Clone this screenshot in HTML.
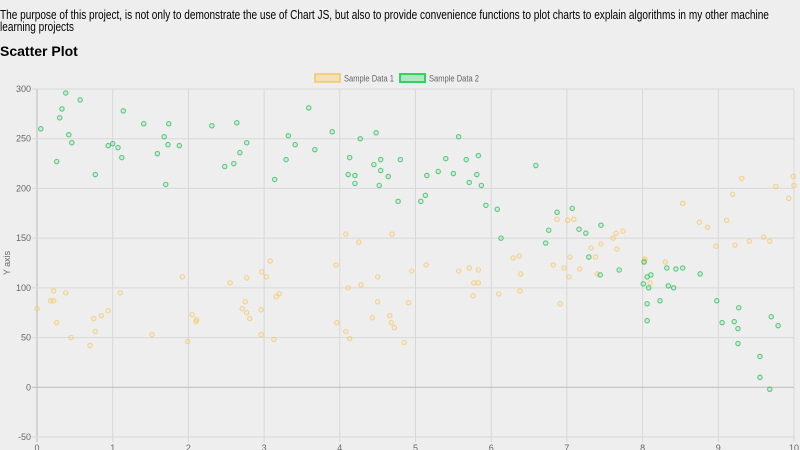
<!DOCTYPE html>
<html><head><meta charset="utf-8"><style>
html,body{margin:0;padding:0;background:#eeeeee;width:800px;height:450px;overflow:hidden;font-family:"Liberation Sans",sans-serif;}
p{margin:0;position:absolute;left:0;top:9px;font-size:13px;line-height:12px;color:#000;width:1000px;transform:scaleX(0.775);transform-origin:0 0;}
h3{margin:0;position:absolute;left:0;top:43px;font-size:14px;font-weight:bold;}
svg{position:absolute;left:0;top:0;}
</style></head><body>
<p>The purpose of this project, is not only to demonstrate the use of Chart JS, but also to provide convenience functions to plot charts to explain algorithms in my other machine learning projects</p>
<h3>Scatter Plot</h3>
<svg id="chart" width="800" height="450"></svg>
<script>
const xTicks=[0,1,2,3,4,5,6,7,8,9,10];
const yTicks=[-50,0,50,100,150,200,250,300];
const series1X=[0,.22,.18,.22,.38,.26,.45,.70,.75,.85,.94,.77,1.10,1.52,1.92,1.99,2.05,2.10,2.11,2.55,2.77,3.08,2.97,3.03,2.75,2.71,2.77,2.81,2.96,2.96,3.13,3.16,3.20,4.08,4.69,4.25,3.95,5.14,4.95,5.57,5.71,5.83,4.50,4.28,4.11,5.77,5.83,5.76,6.10,6.38,4.50,4.91,3.96,4.43,4.66,4.68,4.72,4.08,4.13,4.85,6.29,6.37,6.39,6.82,6.87,7.01,7.09,6.96,7.03,7.04,7.17,7.32,7.38,7.45,7.61,7.65,7.74,7.66,7.40,6.91,8.03,8.02,8.30,8.10,8.53,8.75,8.86,8.97,9.11,9.19,9.31,9.22,9.41,9.60,9.68,9.76,9.93,9.99,10.0];
const series1Y=[79,97,87,87,95,65,50,42,69,72,77,56,95,53,111,46,73,66,68,105,110,127,116,111,86,79,75,69,78,53,48,91,94,154,154,146,123,123,117,117,120,118,111,103,100,105,105,92,94,97,86,85,65,70,72,65,60,56,49,45,130,132,114,123,169,168,169,120,111,131,119,140,131,144,150,155,157,139,114,84,129,127,126,105,185,166,161,142,168,194,210,143,147,151,147,202,190,212,203];
const series2X=[.05,.38,.57,.33,.30,.42,.46,.26,.77,.94,1.00,1.07,1.12,1.14,1.41,1.74,1.68,1.59,1.73,1.88,1.70,2.31,2.64,2.77,2.68,2.48,2.60,3.14,3.32,3.41,3.29,3.59,3.67,3.90,4.27,4.48,4.13,4.54,4.80,4.45,4.54,4.11,4.20,4.64,4.20,4.52,4.77,5.57,5.40,5.67,5.83,5.30,5.15,5.50,5.81,5.71,5.87,5.13,5.07,5.93,6.08,6.13,6.59,6.87,7.07,6.76,6.72,7.16,7.25,7.45,7.29,7.44,7.69,8.02,8.06,8.11,8.01,8.08,8.32,8.44,8.53,8.34,8.41,8.76,8.23,8.06,8.06,8.98,9.27,9.05,9.21,9.26,9.26,9.70,9.79,9.55,9.55,9.68];
const series2Y=[260,296,289,280,271,254,246,227,214,243,245,241,231,278,265,265,252,235,244,243,204,263,266,246,236,222,225,209,253,244,229,281,239,257,250,256,231,229,229,224,218,214,213,212,205,203,187,252,230,229,233,217,213,215,214,206,203,193,187,183,179,150,223,176,180,158,145,159,155,163,131,113,118,126,111,113,104,100,120,119,120,102,100,114,87,84,67,87,80,65,66,59,44,71,62,31,10,-2];
const NS='http://www.w3.org/2000/svg';
const svg=document.getElementById('chart');
const L=37,R=794,T=89,B=437;
const xs=v=>L+(v-0)/(10-0)*(R-L);
const ys=v=>B-(v+50)/350*(B-T);
function mk(tag,attrs,parent){const e=document.createElementNS(NS,tag);for(const k in attrs)e.setAttribute(k,attrs[k]);(parent||svg).appendChild(e);return e;}
const grid=mk('g',{});


xTicks.forEach(t=>{
 const l=mk('line',{x1:xs(t),x2:xs(t),y1:T,y2:B+5,stroke:t===0?'#bbb':'#d8d8d8','stroke-width':1},grid);
 
 
 const tx=mk('text',{x:xs(t),y:451,'font-size':9,fill:'#666','text-anchor':'middle'});
 tx.textContent=t;
 
 
});
yTicks.forEach(t=>{
 const l=mk('line',{x1:L-5,x2:R,y1:ys(t),y2:ys(t),stroke:t===0?'#bbb':'#d8d8d8','stroke-width':1},grid);
 
 
 const tx=mk('text',{x:31,y:ys(t)+3,'font-size':9,fill:'#666','text-anchor':'end'});
 tx.textContent=t;
 
 
});
const yt=mk('text',{x:10,y:263,'font-size':9,fill:'#666','text-anchor':'middle',transform:'rotate(-90 10 263)'});
yt.textContent='Y axis';


function drawSeries(X,Y,stroke,fill,name){
 const g=mk('g',{});
 
 
 X.forEach((x,i)=>{
  const c=mk('circle',{cx:xs(x),cy:ys(Y[i]),r:2.2,fill:fill,stroke:stroke,'stroke-width':1.1},g);
  
  
 });
}
drawSeries(series1X,series1Y,'rgba(245,190,70,0.55)','rgba(255,220,150,0.2)','series-sample-data-1');
drawSeries(series2X,series2Y,'rgba(40,190,90,0.75)','rgba(120,220,150,0.2)','series-sample-data-2');
const lg=mk('g',{});


const items=[['Sample Data 1',315,'rgba(245,190,70,0.6)','rgba(250,215,140,0.55)'],['Sample Data 2',400,'rgba(30,210,80,0.9)','rgba(130,230,160,0.6)']];
items.forEach(it=>{
 const e=mk('g',{},lg);
 
 
 mk('rect',{x:it[1],y:74,width:25,height:8,fill:it[3],stroke:it[2],'stroke-width':2},e);
 const t=mk('text',{x:it[1]+29,y:81.5,'font-size':9,fill:'#666',textLength:50,lengthAdjust:'spacingAndGlyphs'},e);
 t.textContent=it[0];
});
</script>
</body></html>
